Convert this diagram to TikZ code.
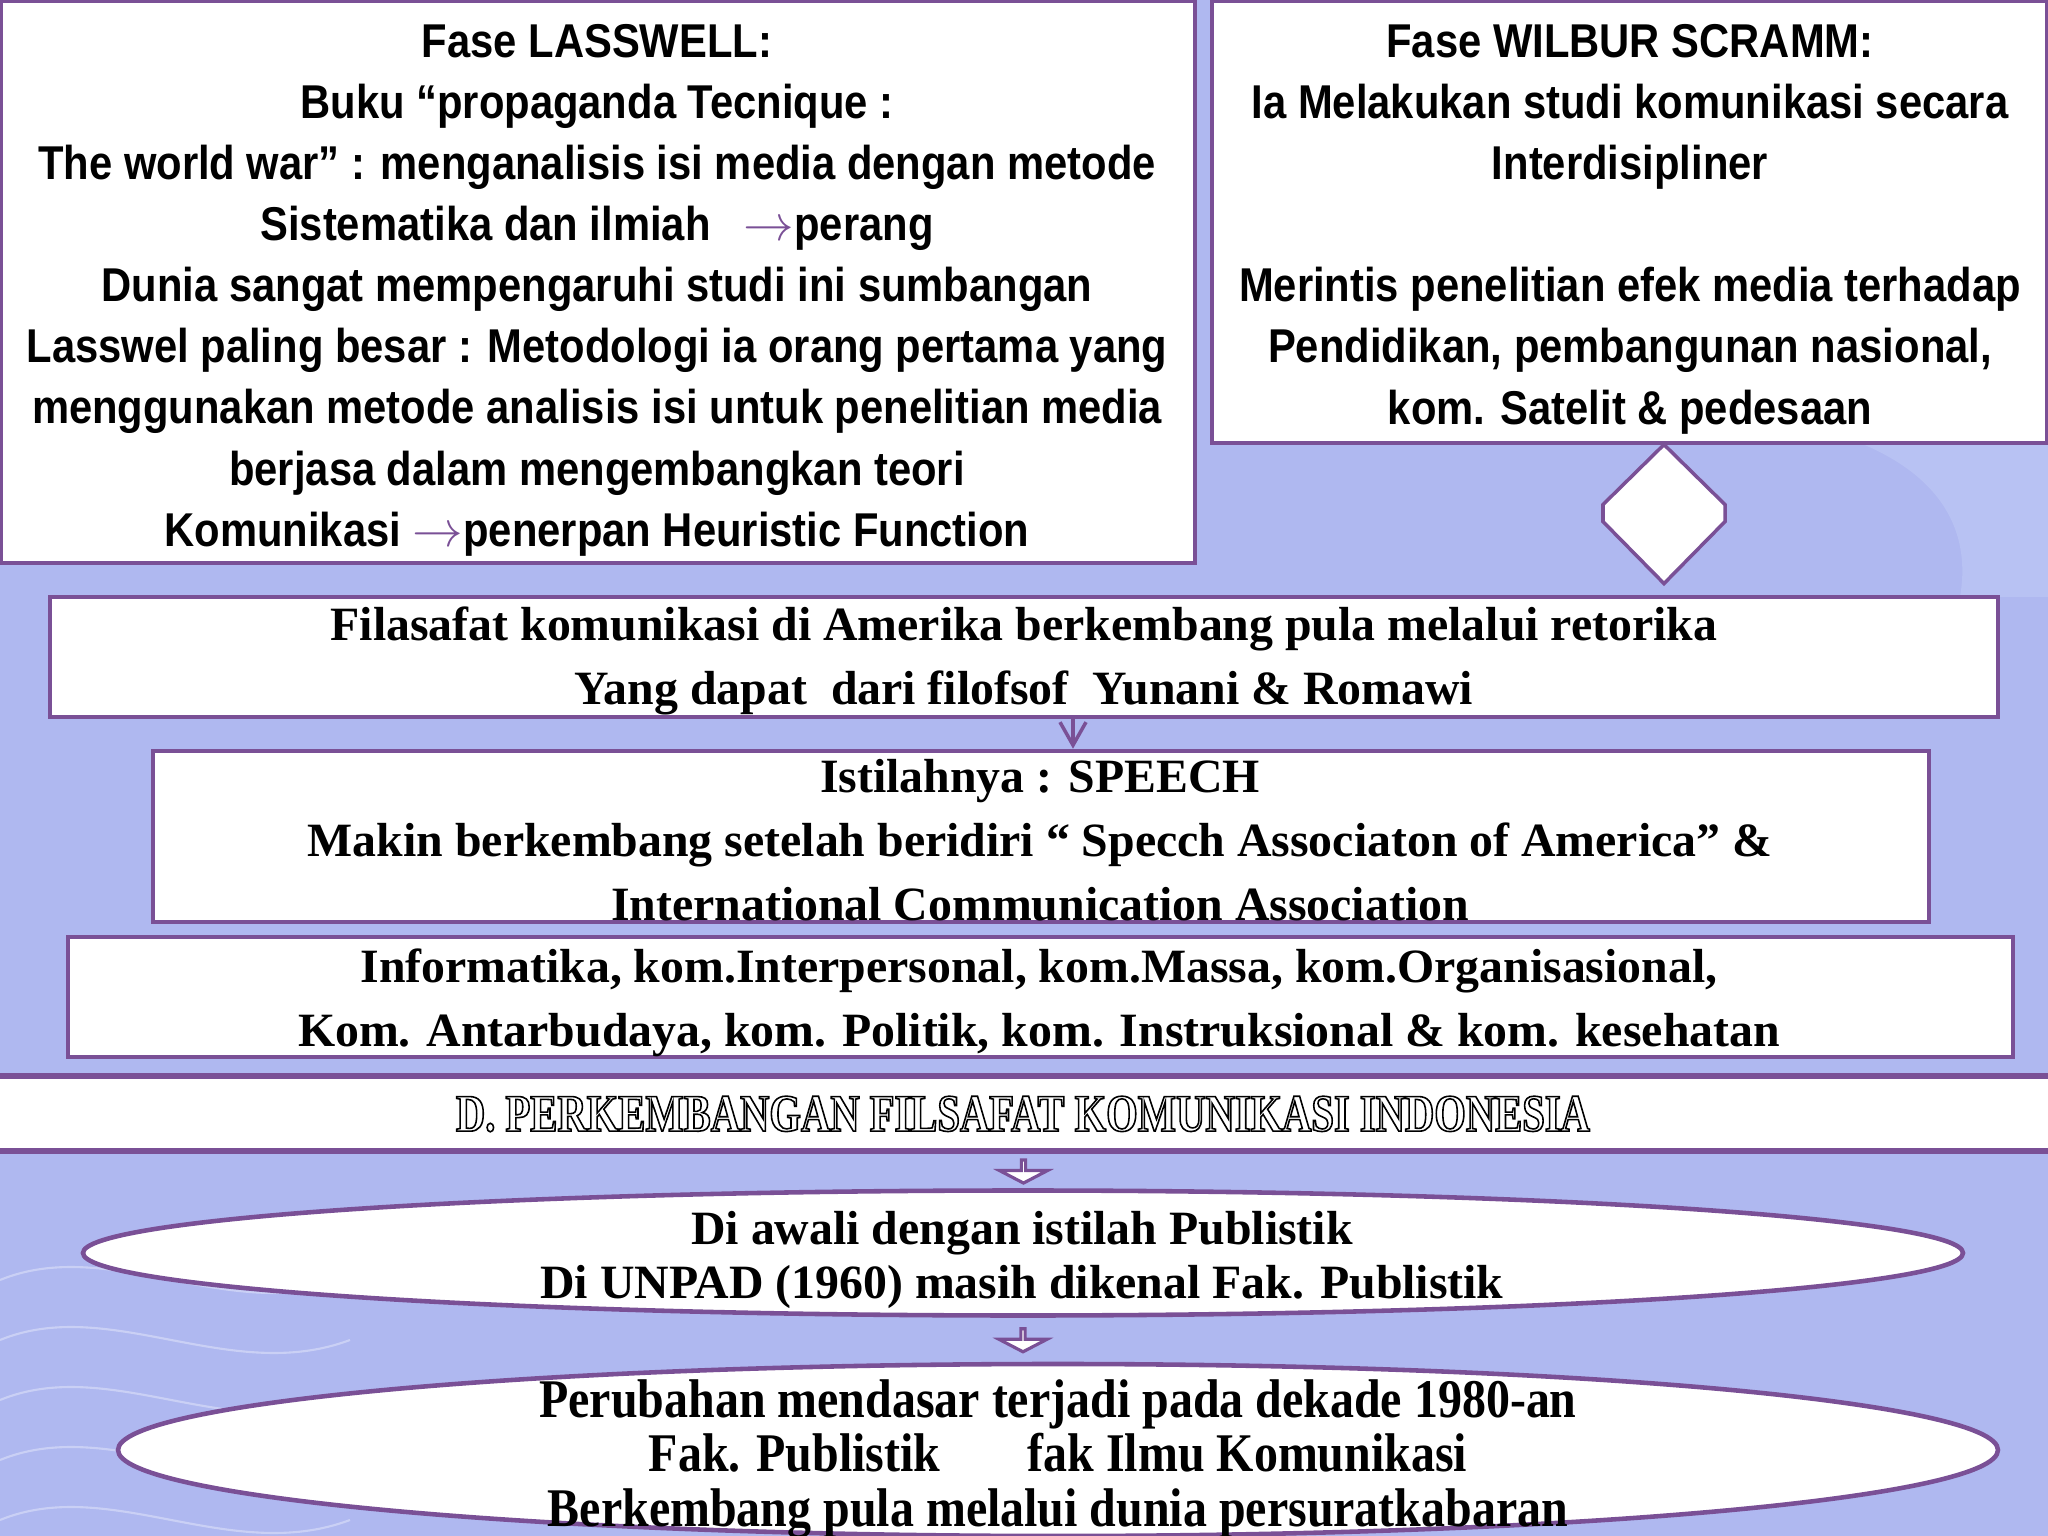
\documentclass[tikz,border=0pt]{standalone}
\usepackage{fontspec}
\setmainfont{Liberation Serif}
\newfontfamily\slidesans[FakeStretch=0.88]{Liberation Sans}
\newfontfamily\slidenarrow[FakeStretch=0.88]{Liberation Serif}
\newfontfamily\slidetitle[FakeStretch=0.77]{Liberation Serif}
\usepackage{tikz}
\usetikzlibrary{positioning,calc,shapes.geometric,shapes.arrows,arrows.meta}
\definecolor{slideblue}{RGB}{175,184,240}
\definecolor{slidelight}{RGB}{184,194,243}
\definecolor{slidepurple}{RGB}{122,80,150}
\tikzstyle{topbox} = [draw=slidepurple, line width=0.9pt, fill=white, rectangle, inner sep=0pt]
\tikzstyle{block} = [draw=slidepurple, line width=1.3pt, fill=white, rectangle, inner sep=0pt]
\tikzstyle{oval} = [draw=slidepurple, line width=1.3pt, fill=white, ellipse, inner sep=0pt]
\tikzstyle{sanstext} = [align=center, inner sep=0pt, font=\slidesans\bfseries\fontsize{13.5}{17.4}\selectfont]
\tikzstyle{seriftext} = [align=center, inner sep=0pt, font=\bfseries\fontsize{13.6}{18.2}\selectfont]
\tikzstyle{ovaltext} = [align=center, inner sep=0pt, font=\bfseries\fontsize{13.6}{15.5}\selectfont]
\tikzstyle{blockarrow} = [draw=slidepurple, line width=0.9pt, fill=white, single arrow, shape border rotate=270, minimum width=0.48cm, minimum height=0.23cm, single arrow head extend=0.165cm, single arrow tip angle=125, inner sep=0pt]
\newcommand{\tto}{\textcolor{slidepurple}{$\rightarrow$}}
\newcommand{\outlined}[1]{\textcolor{white}{\special{pdf:literal direct 2 Tr 0.45 w 0 G}#1\special{pdf:literal direct 0 Tr}}}

\begin{document}
\begin{tikzpicture}[>=latex]

\useasboundingbox (0,0) rectangle (20.48,-15.36);
\fill[slideblue] (0,0) rectangle (20.48,-15.36);
\fill[slidelight] (18.6,-4.43) .. controls (19.5,-4.8) and (19.7,-5.4) .. (19.6,-5.97) -- (20.48,-5.97) -- (20.48,-4.43) -- cycle;
\foreach \y in {12.8,13.4,14.0,14.6,15.2}
  \draw[white, opacity=0.35, line width=0.6pt] (0,-\y) .. controls (1.1,-\y+0.45) and (2.3,-\y-0.45) .. (3.5,-\y);

% two phases
\node [topbox, minimum width=11.94cm, minimum height=5.62cm] (lasswell) at (5.98,-2.82) {};
\node [topbox, minimum width=8.35cm, minimum height=4.42cm] (schramm) at (16.295,-2.22) {};
\node [sanstext] (lasswelltext) at (5.97,-2.90) {Fase LASSWELL:\\
Buku “propaganda Tecnique :\\
The world war” : menganalisis isi media dengan metode\\
Sistematika dan ilmiah\hspace{0.7em}\tto perang\\
Dunia sangat mempengaruhi studi ini sumbangan\\
Lasswel paling besar : Metodologi ia orang pertama yang\\
menggunakan metode analisis isi untuk penelitian media\\
berjasa dalam mengembangkan teori\\
Komunikasi \tto penerpan Heuristic Function};
\node [sanstext] (schrammtext) at (16.30,-2.29) {Fase WILBUR SCRAMM:\\
Ia Melakukan studi komunikasi secara\\
Interdisipliner\\[17.4pt]
Merintis penelitian efek media terhadap\\
Pendidikan, pembangunan nasional,\\
kom. Satelit \& pedesaan};

\coordinate (knot) at ([xshift=0.345cm]schramm.south);
\draw [slidepurple, line width=1pt, fill=white] (knot) -- ++(0.61,-0.6) -- ++(0,-0.17) -- ++(-0.61,-0.62) -- ++(-0.61,0.62) -- ++(0,0.17) -- cycle;

% america
\node [block, minimum width=19.48cm, minimum height=1.2cm] (filsafat) at (10.24,-6.57) {};
\node [block, minimum width=17.76cm, minimum height=1.71cm] (speech) at (10.41,-8.365) {};
\node [block, minimum width=19.45cm, minimum height=1.2cm] (informatika) at (10.405,-9.97) {};
\node [seriftext] (filsafattext) at (10.24,-6.61) {Filasafat komunikasi di Amerika berkembang pula melalui retorika\\
Yang dapat\ \ dari filofsof\ \ Yunani \& Romawi};
\node [seriftext] (speechtext) at (10.40,-8.40) {Istilahnya : SPEECH\\
Makin berkembang setelah beridiri “ Specch Associaton of America” \&\\
International Communication Association};
\node [seriftext] (informatikatext) at (10.39,-10.03) {Informatika, kom.Interpersonal, kom.Massa, kom.Organisasional,\\
Kom. Antarbudaya, kom. Politik, kom. Instruksional \& kom. kesehatan};
\draw [slidepurple, line width=1pt, -{Straight Barb[length=2.3mm, width=2.6mm]}] ([xshift=0.49cm]filsafat.south) -- ([xshift=0.49cm]filsafat.south |- speech.north);

% indonesia
\node [block, line width=1.6pt, minimum width=20.58cm, minimum height=0.75cm] (band) at (10.24,-11.135) {};
\node [inner sep=0pt, font=\slidetitle\bfseries\fontsize{15}{18}\selectfont] (bandtext) at (10.23,-11.14) {\outlined{D. PERKEMBANGAN FILSAFAT KOMUNIKASI INDONESIA}};

\node [oval, minimum width=18.8cm, minimum height=1.25cm] (publistik) at (10.23,-12.53) {};
\node [oval, minimum width=18.8cm, minimum height=1.72cm] (komunikasi) at (10.58,-14.50) {};
\node [ovaltext] (publistiktext) at (10.22,-12.60) {Di awali dengan istilah Publistik\\
Di UNPAD (1960) masih dikenal Fak. Publistik};
\node [ovaltext, font=\slidenarrow\bfseries\fontsize{15.5}{15.4}\selectfont] (komunikasitext) at (10.58,-14.59) {Perubahan mendasar terjadi pada dekade 1980-an\\
Fak. Publistik\hspace{1.6em}fak Ilmu Komunikasi\\
Berkembang pula melalui dunia persuratkabaran};

\node [blockarrow] (down1) at ($(band.south)!0.5!(publistik.north)$) {};
\node [blockarrow] (down2) at ($(publistik.south)!0.5!(publistik.south |- komunikasi.north)$) {};

\end{tikzpicture}
\end{document}
